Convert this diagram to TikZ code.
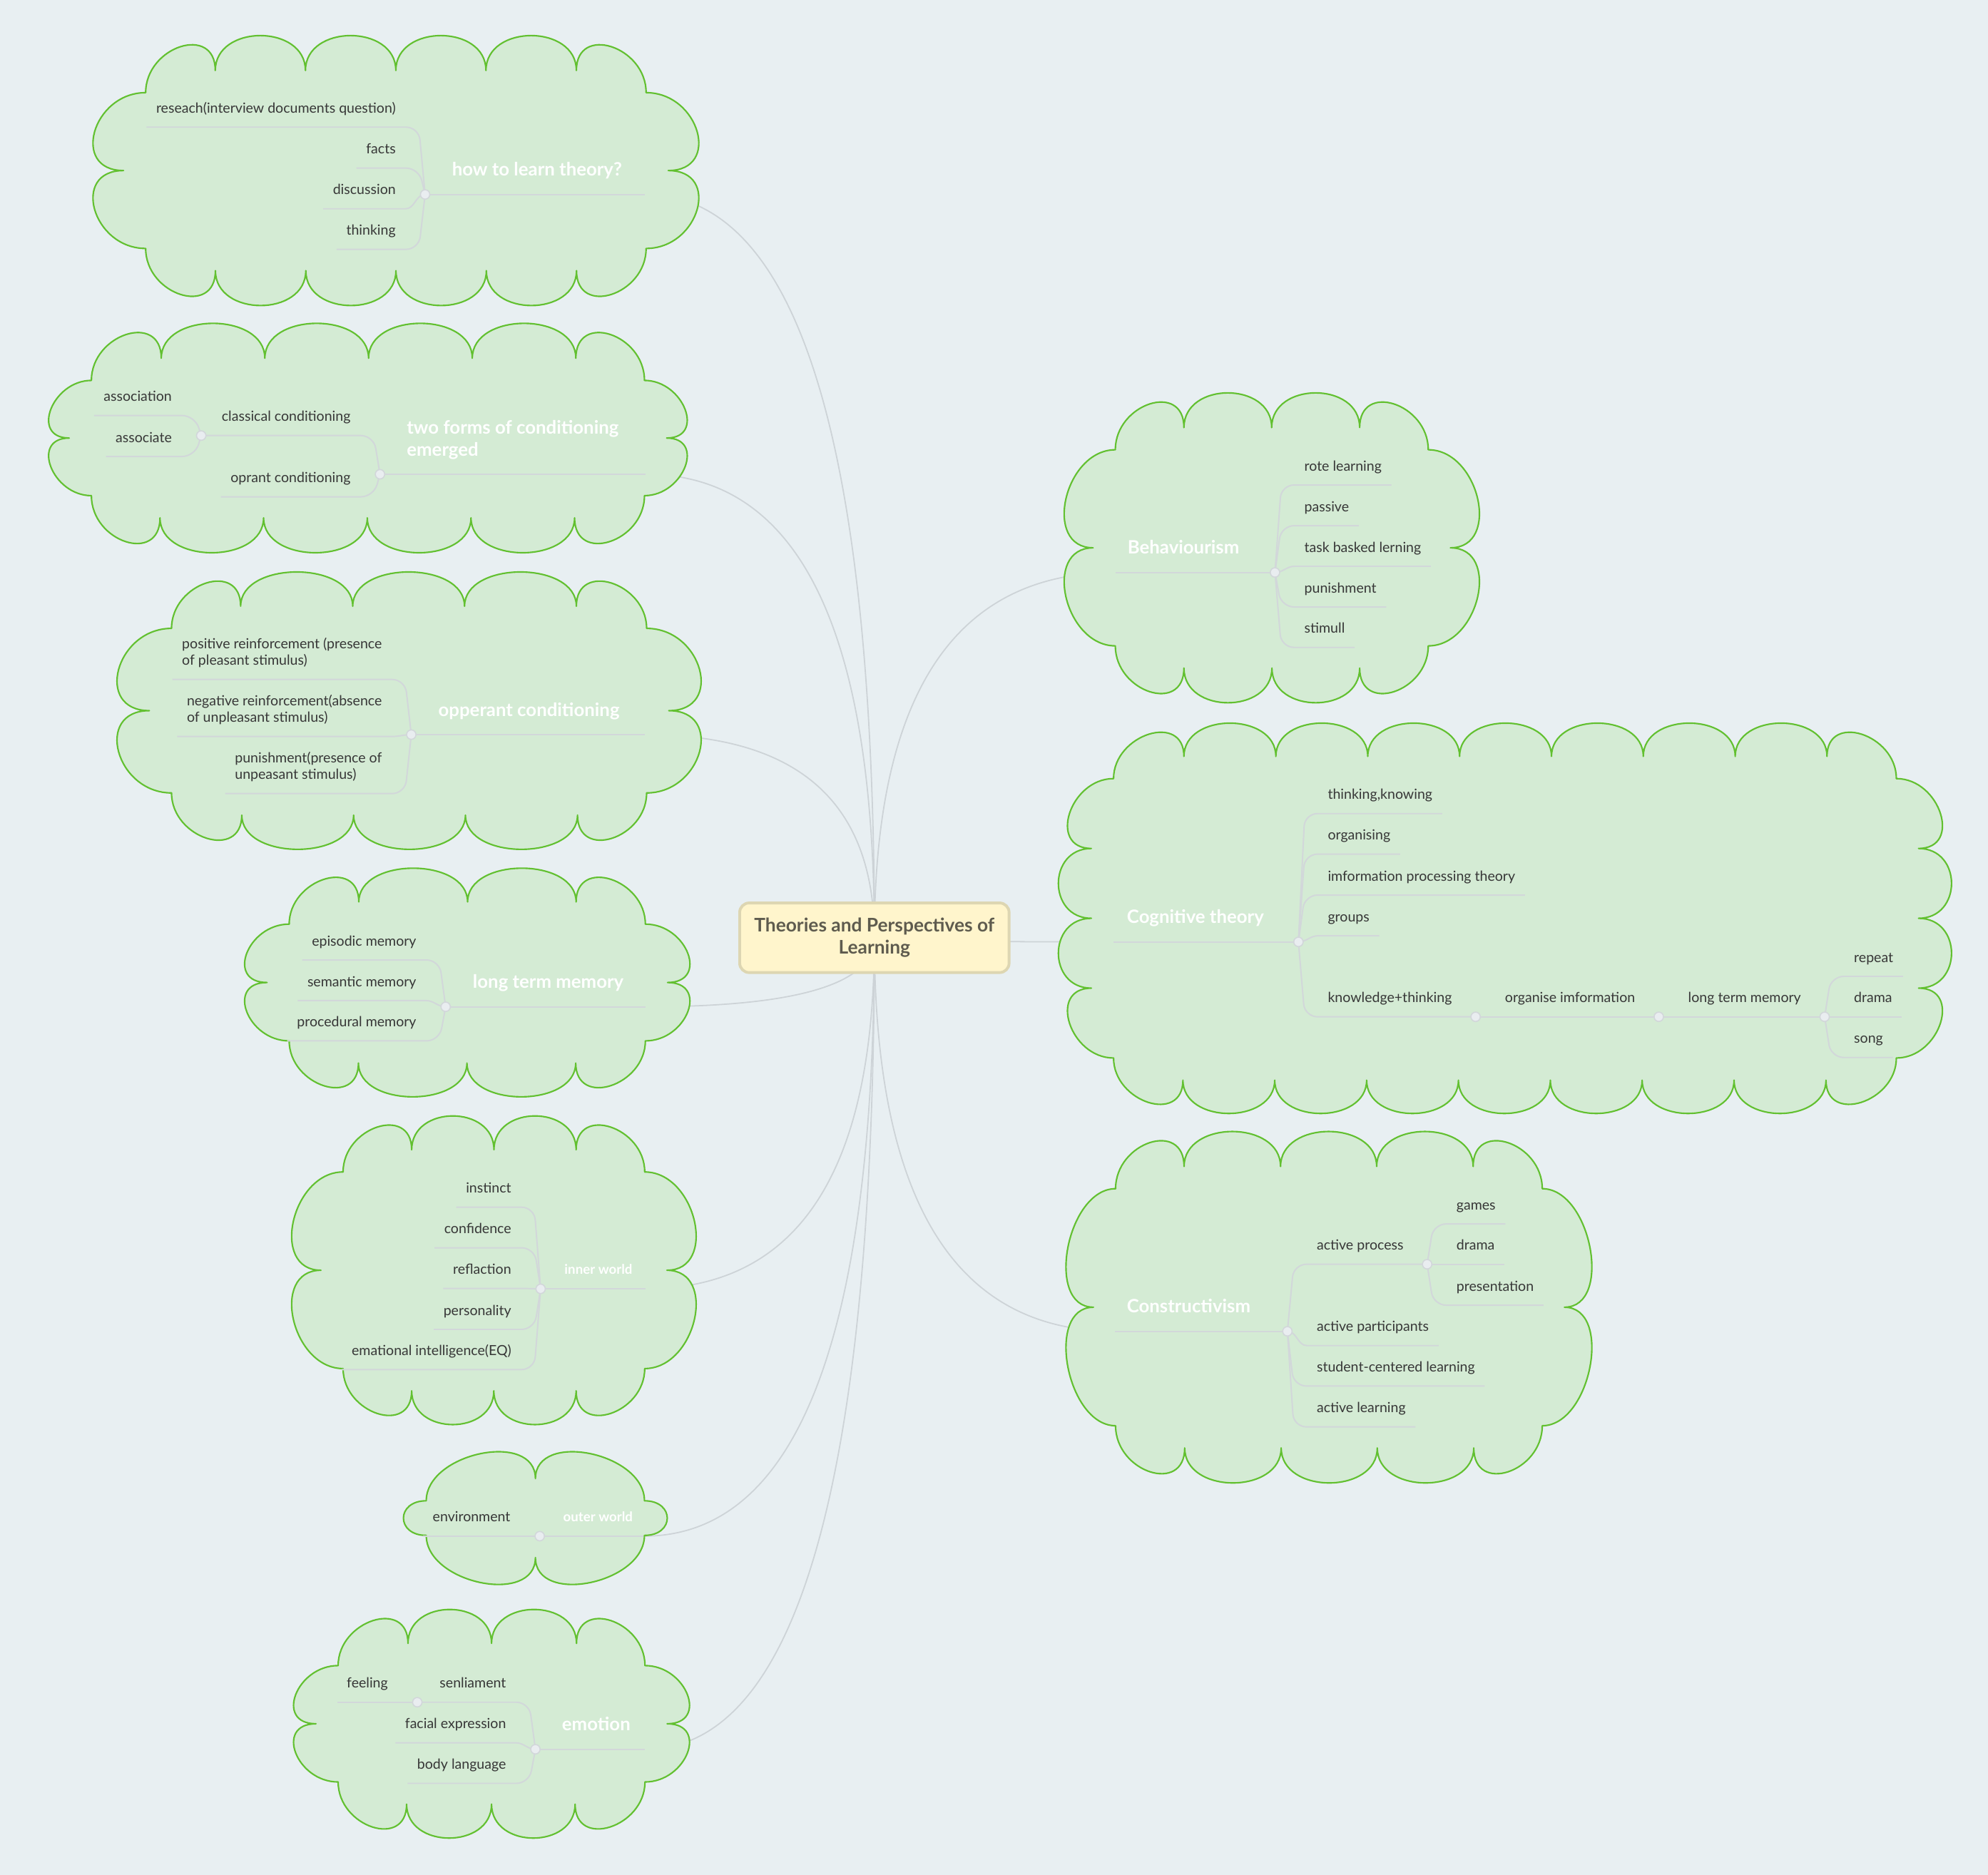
\documentclass[tikz,border=0pt]{standalone}
\usepackage{fontspec}
\setmainfont{Lato}
\usetikzlibrary{calc}
\pgfdeclarelayer{back}
\pgfdeclarelayer{connl}
\pgfdeclarelayer{cloudl}
\pgfdeclarelayer{linel}
\pgfsetlayers{back,connl,cloudl,linel,main}
\definecolor{bgc}{RGB}{232,239,242}
\definecolor{cloudfill}{RGB}{212,235,212}
\definecolor{cloudline}{RGB}{98,192,48}
\definecolor{linec}{RGB}{205,211,215}
\definecolor{ulc}{RGB}{210,215,218}
\definecolor{dotfill}{RGB}{233,237,240}
\definecolor{txtc}{RGB}{55,55,55}
\definecolor{ctrfill}{RGB}{255,245,204}
\definecolor{ctrline}{RGB}{221,214,178}
\definecolor{ctrtxt}{RGB}{94,91,78}
\newcommand\leaffont{\fontsize{11}{13.3}\selectfont}
\newcommand\mtfont{\fontsize{14.5}{17.4}\selectfont\bfseries}
\newcommand\mtsfont{\fontsize{10.5}{12.6}\selectfont\bfseries}
\newcommand\ctrfont{\fontsize{14.8}{17.4}\selectfont\bfseries}
% cloud: #1 x0 #2 y0 #3 x1 #4 y1 (inner corners), #5 top cusps x, #6 side cusps y, #7 top bulge ctrl, #8 side bulge ctrl
\newcommand\mycloud[8]{%
 \path[cloudsty] (#1,#2)
  \foreach \cuX in {#5} { .. controls +(0,-#7) and +(0,-#7) .. (\cuX,#2-17.5) }
  .. controls +(0,-#7) and +(0,-#7) .. (#3,#2)
  \foreach \cuY in {#6} { .. controls +(#8,0) and +(#8,0) .. (#3+17.5,\cuY) }
  .. controls +(#8,0) and +(#8,0) .. (#3,#4)
  \foreach \cuX in {#5} { .. controls +(0,#7) and +(0,#7) .. (#1+#3-\cuX,#4+17.5) }
  .. controls +(0,#7) and +(0,#7) .. (#1,#4)
  \foreach \cuY in {#6} { .. controls +(-#8,0) and +(-#8,0) .. (#1-17.5,#2+#4-\cuY) }
  .. controls +(-#8,0) and +(-#8,0) .. (#1,#2) -- cycle;}
\newcommand\brL[2]{\draw[br] (#1.center) -- ($(#1.center |- #2.south)+(-5,0)$) -- (#2.south west);}
\newcommand\brR[2]{\draw[br] (#1.center) -- ($(#1.center |- #2.south)+(5,0)$) -- (#2.south east);}
\newcommand\sL[2]{\draw[ul] (#1.center) to[out=180,in=0] (#2.south east) -- (#2.south west);}
\newcommand\sR[2]{\draw[ul] (#1.center) to[out=0,in=180] (#2.south west) -- (#2.south east);}
% quadratic-like connector from the central topic
\newcommand\cn[1]{\draw[conn] (ctr.center) .. controls ($(ctr.center)!0.667!(ctr.center |- #1)$) and ($(#1)!0.667!(ctr.center |- #1)$) .. (#1);}
\begin{document}
\begin{tikzpicture}[x=1pt,y=-1pt,
 cloudsty/.style={fill=cloudfill, draw=cloudline, line width=1.2pt, line join=round},
 conn/.style={draw=linec, line width=1pt},
 ul/.style={draw=ulc, line width=1.1pt},
 br/.style={ul, rounded corners=10pt},
 dot/.style={circle, fill=dotfill, draw=ulc, line width=0.9pt, minimum size=7.4pt, inner sep=0pt},
 leaf/.style={font=\leaffont, text=txtc, inner xsep=7.5pt, inner ysep=11pt, text depth=0pt, align=left},
 mt/.style={font=\mtfont, text=white, inner xsep=0pt, inner ysep=14.3pt, text depth=0pt, align=left},
 mts/.style={font=\mtsfont, text=white, inner xsep=0pt, inner ysep=11.2pt, text depth=0pt},
 ctr/.style={rounded corners=7.5pt, fill=ctrfill, draw=ctrline, line width=2.2pt, minimum width=212.5pt, minimum height=54.9pt, font=\ctrfont, text=ctrtxt, align=center, inner sep=0pt}]
\useasboundingbox (0,0) rectangle (1568,1479.1);

\node[ctr] (ctr) at (689.65,739.75) {Theories and Perspectives of\\Learning};

% ---------- cloud 1
\node[dot] (c1) at (335.3,153.4) {};
\coordinate (e1) at (508.6,153.4);
\node[mt, anchor=south west] (m1) at (356.4,153.4) {how to learn theory?};
\node[leaf, anchor=south east] (n11) at (319.8,100.3) {reseach(interview documents question)};
\node[leaf, anchor=south east] (n12) at (319.8,132.6) {facts};
\node[leaf, anchor=south east] (n13) at (319.8,164.7) {discussion};
\node[leaf, anchor=south east] (n14) at (319.8,196.7) {thinking};
% ---------- cloud 2
\node[dot] (c2) at (299.7,374.1) {};
\coordinate (e2) at (509.3,374.1);
\node[mt, anchor=south west] (m2) at (320.7,374.1) {two forms of conditioning\\emerged};
\node[leaf, anchor=south east] (n21) at (284.2,343.6) {classical conditioning};
\node[leaf, anchor=south east] (n22) at (284.2,391.9) {oprant conditioning};
\node[dot] (cb) at ($(n21.south west)+(-8.5,0)$) {};
\node[leaf, anchor=south east] (n23) at ($(cb)+(-15.5,-15.8)$) {association};
\node[leaf, anchor=south east] (n24) at ($(cb)+(-15.5,16.5)$) {associate};
% ---------- cloud 3
\node[dot] (c3) at (324.4,579.5) {};
\coordinate (e3) at (508.5,579.5);
\node[mt, anchor=south west] (m3) at (345.6,579.5) {opperant conditioning};
\node[leaf, anchor=south east] (n31) at (308.9,536.0) {positive reinforcement (presence\\of pleasant stimulus)};
\node[leaf, anchor=south east] (n32) at (308.9,581.0) {negative reinforcement(absence\\of unpleasant stimulus)};
\node[leaf, anchor=south east] (n33) at (308.9,626.0) {punishment(presence of\\unpeasant stimulus)};
% ---------- cloud 4
\node[dot] (c4) at (351.5,794.2) {};
\coordinate (e4) at (509.0,794.2);
\node[mt, anchor=south west] (m4) at (372.8,794.2) {long term memory};
\node[leaf, anchor=south east] (n41) at (336,757.3) {episodic memory};
\node[leaf, anchor=south east] (n42) at (336,789.3) {semantic memory};
\node[leaf, anchor=south east] (n43) at (336,821.1) {procedural memory};
% ---------- cloud 5
\node[dot] (c5) at (426.4,1016.7) {};
\coordinate (e5) at (509.0,1016.7);
\node[mts, anchor=south west] (m5) at (445.1,1016.7) {inner world};
\node[leaf, anchor=south east] (n51) at (410.9,952.3) {instinct};
\node[leaf, anchor=south east] (n52) at (410.9,984.3) {confidence};
\node[leaf, anchor=south east] (n53) at (410.9,1016.4) {reflaction};
\node[leaf, anchor=south east] (n54) at (410.9,1048.7) {personality};
\node[leaf, anchor=south east] (n55) at (410.9,1080.4) {emational intelligence(EQ)};
% ---------- cloud 6
\node[dot] (c6) at (425.7,1211.8) {};
\coordinate (e6) at (507.6,1211.8);
\node[mts, anchor=south west] (m6) at (444.1,1211.8) {outer world};
\node[leaf, anchor=south east] (n61) at (410.2,1211.8) {environment};
% ---------- cloud 7
\node[dot] (c7) at (422.3,1379.9) {};
\coordinate (e7) at (508.7,1379.9);
\node[mt, anchor=south west] (m7) at (443.1,1379.9) {emotion};
\node[leaf, anchor=south east] (n71) at (406.8,1342.8) {senliament};
\node[dot] (cs) at ($(n71.south west)+(-10,0)$) {};
\node[leaf, anchor=south east] (n72) at ($(cs)+(-15.5,0)$) {feeling};
\node[leaf, anchor=south east] (n73) at (406.8,1374.8) {facial expression};
\node[leaf, anchor=south east] (n74) at (406.8,1406.8) {body language};
% ---------- Behaviourism
\node[dot] (cB) at (1005.6,451.6) {};
\coordinate (eB) at (879.7,451.6);
\node[mt, anchor=south west] (mB) at (889.2,451.6) {Behaviourism};
\node[leaf, anchor=south west] (nB1) at (1021.1,382.6) {rote learning};
\node[leaf, anchor=south west] (nB2) at (1021.1,414.7) {passive};
\node[leaf, anchor=south west] (nB3) at (1021.1,446.7) {task basked lerning};
\node[leaf, anchor=south west] (nB4) at (1021.1,478.8) {punishment};
\node[leaf, anchor=south west] (nB5) at (1021.1,510.7) {stimull};
% ---------- Cognitive
\node[dot] (cC) at (1024.1,743.0) {};
\coordinate (eC) at (878.3,743.0);
\node[mt, anchor=south west] (mC) at (888.7,743.0) {Cognitive theory};
\node[leaf, anchor=south west] (nC1) at (1039.6,641.8) {thinking,knowing};
\node[leaf, anchor=south west] (nC2) at (1039.6,673.8) {organising};
\node[leaf, anchor=south west] (nC3) at (1039.6,706.1) {imformation processing theory};
\node[leaf, anchor=south west] (nC4) at (1039.6,738.2) {groups};
\node[leaf, anchor=south west] (nC5) at (1039.6,802.1) {knowledge+thinking};
\node[dot] (ck1) at ($(nC5.south east)+(11,0)$) {};
\node[leaf, anchor=south west] (nC6) at ($(ck1)+(15.5,0)$) {organise imformation};
\node[dot] (ck2) at ($(nC6.south east)+(11,0)$) {};
\node[leaf, anchor=south west] (nC7) at ($(ck2)+(15.5,0)$) {long term memory};
\node[dot] (ck3) at ($(nC7.south east)+(11,0)$) {};
\node[leaf, anchor=south west] (nC8) at ($(ck3)+(15.5,-31.9)$) {repeat};
\node[leaf, anchor=south west] (nC9) at ($(ck3)+(15.5,0)$) {drama};
\node[leaf, anchor=south west] (nC10) at ($(ck3)+(15.5,32.1)$) {song};
% ---------- Constructivism
\node[dot] (cK) at (1015.4,1050.2) {};
\coordinate (eK) at (879.6,1050.2);
\node[mt, anchor=south west] (mK) at (888.6,1050.2) {Constructivism};
\node[leaf, anchor=south west] (nK1) at (1030.9,997.3) {active process};
\node[dot] (cap) at ($(nK1.south east)+(11,0)$) {};
\node[leaf, anchor=south west] (nK2) at ($(cap)+(15.5,-31.8)$) {games};
\node[leaf, anchor=south west] (nK3) at ($(cap)+(15.5,0)$) {drama};
\node[leaf, anchor=south west] (nK4) at ($(cap)+(15.5,32.3)$) {presentation};
\node[leaf, anchor=south west] (nK5) at (1030.9,1061.5) {active participants};
\node[leaf, anchor=south west] (nK6) at (1030.9,1093.4) {student-centered learning};
\node[leaf, anchor=south west] (nK7) at (1030.9,1125.6) {active learning};

\begin{pgfonlayer}{linel}
 % main underlines
 \draw[ul] (c1.center) -- (e1);
 \draw[ul] (c2.center) -- (e2);
 \draw[ul] (c3.center) -- (e3);
 \draw[ul] (c4.center) -- (e4);
 \draw[ul] (c5.center) -- (e5);
 \draw[ul] (c6.center) -- (e6);
 \draw[ul] (c7.center) -- (e7);
 \draw[ul] (eB) -- (cB.center);
 \draw[ul] (eC) -- (cC.center);
 \draw[ul] (eK) -- (cK.center);
 % cloud 1
 \brL{c1}{n11} \brL{c1}{n12} \sL{c1}{n13} \brL{c1}{n14}
 % cloud 2
 \draw[br] (c2.center) -- ($(c2.center |- n21.south)+(-5,0)$) -- (cb.center);
 \brL{c2}{n22}
 \brL{cb}{n23} \brL{cb}{n24}
 % cloud 3
 \brL{c3}{n31} \sL{c3}{n32} \brL{c3}{n33}
 % cloud 4
 \brL{c4}{n41} \sL{c4}{n42} \brL{c4}{n43}
 % cloud 5
 \brL{c5}{n51} \brL{c5}{n52} \sL{c5}{n53} \brL{c5}{n54} \brL{c5}{n55}
 % cloud 6
 \draw[ul] (c6.center) -- (n61.south west);
 % cloud 7
 \draw[br] (c7.center) -- ($(c7.center |- n71.south)+(-5,0)$) -- (cs.center);
 \draw[ul] (cs.center) -- (n72.south west);
 \sL{c7}{n73} \brL{c7}{n74}
 % Behaviourism
 \brR{cB}{nB1} \brR{cB}{nB2} \sR{cB}{nB3} \brR{cB}{nB4} \brR{cB}{nB5}
 % Cognitive
 \brR{cC}{nC1} \brR{cC}{nC2} \brR{cC}{nC3} \sR{cC}{nC4}
 \draw[br] (cC.center) -- ($(cC.center |- nC5.south)+(5,0)$) -- (ck1.center);
 \draw[ul] (ck1.center) -- (ck2.center);
 \draw[ul] (ck2.center) -- (ck3.center);
 \brR{ck3}{nC8}
 \draw[ul] (ck3.center) -- (nC9.south east);
 \brR{ck3}{nC10}
 % Constructivism
 \draw[br] (cK.center) -- ($(cK.center |- nK1.south)+(5,0)$) -- (cap.center);
 \brR{cap}{nK2}
 \draw[ul] (cap.center) -- (nK3.south east);
 \brR{cap}{nK4}
 \sR{cK}{nK5} \brR{cK}{nK6} \brR{cK}{nK7}
\end{pgfonlayer}

\begin{pgfonlayer}{cloudl}
 \mycloud{114.9}{73.1}{509.6}{196.0}{169.8,240.9,312.2,383.3,454.6}{134.55}{36.7}{42}
 \mycloud{72.1}{300.1}{508.3}{391.0}{127.2,208.9,290.7,372.5,454.2}{345.55}{36.7}{31}
 \mycloud{135.3}{495.7}{510.0}{625.5}{189.8,278.2,366.4,454.6}{560.6}{36}{44}
 \mycloud{228.1}{729.0}{509.0}{821.1}{283.0,368.8,454.4}{775.05}{35.5}{33}
 \mycloud{270.6}{924.5}{508.5}{1079.6}{324.7,389.6,454.4}{1002.05}{35.6}{40.6}
 \path[cloudsty] (336.2,1183.9) .. controls +(0,-38) and +(0,-38) .. (422.3,1166.4)
   .. controls +(0,-38) and +(0,-38) .. (508.3,1183.9)
   .. controls +(24,0) and +(24,0) .. (508.3,1211.2)
   .. controls +(0,38) and +(0,38) .. (422.3,1228.7)
   .. controls +(0,38) and +(0,38) .. (336.2,1211.2)
   .. controls +(-24,0) and +(-24,0) .. (336.2,1183.9) -- cycle;
 \mycloud{266.7}{1313.9}{508.7}{1405.7}{321.8,387.7,454.7}{1359.8}{35.7}{33}
 \mycloud{879.7}{354.8}{1126.5}{509.5}{933.8,1003.0,1072.4}{432.15}{36.5}{40.3}
 \mycloud{878.3}{614.2}{1495.7}{834.6}{933.8,1006.3,1078.8,1151.2,1223.7,1296.1,1368.6,1441.0}{669.3,724.4,779.5}{35}{34.7}
 \mycloud{879.9}{937.7}{1216.4}{1124.7}{933.9,1010.0,1085.8,1161.9}{1031.2}{36.8}{38.6}
\end{pgfonlayer}

\begin{pgfonlayer}{connl}
 \cn{e1} \cn{e2} \cn{e3} \cn{e4} \cn{e5} \cn{e6} \cn{e7}
 \cn{eB} \cn{eC} \cn{eK}
\end{pgfonlayer}

\begin{pgfonlayer}{back}
 \fill[bgc] (0,0) rectangle (1568,1479.1);
\end{pgfonlayer}
\end{tikzpicture}
\end{document}
